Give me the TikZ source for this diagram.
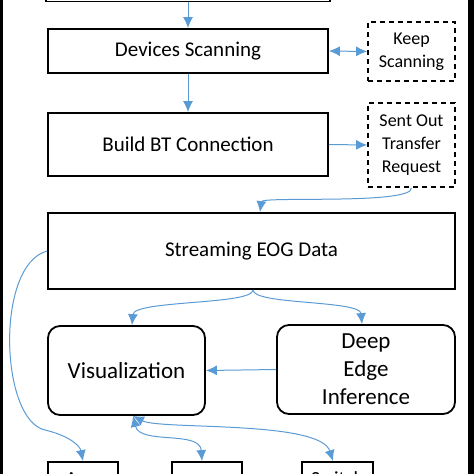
\documentclass[tikz,border=0pt]{standalone}
\usepackage{fontspec}
\setmainfont{Carlito}
\usetikzlibrary{arrows.meta}
\definecolor{ablue}{RGB}{91,155,213}
\begin{document}
\begin{tikzpicture}[x=1pt,y=-1pt,
  sbox/.style={draw=black,line width=1.8pt,inner sep=0pt,align=center,font=\fontsize{21}{25}\selectfont},
  dbox/.style={draw=black,line width=1.8pt,dash pattern=on 5pt off 4pt,inner sep=0pt,align=center,font=\fontsize{18}{23}\selectfont},
  rbox/.style={draw=black,line width=1.8pt,rounded corners=12pt,inner sep=0pt,align=center,font=\fontsize{23}{28}\selectfont},
  conn/.style={draw=ablue,line width=1pt,-{Latex[length=11pt,width=10pt]}},
  dconn/.style={draw=ablue,line width=1pt,{Latex[length=11pt,width=10pt]}-{Latex[length=11pt,width=10pt]}}
]
\useasboundingbox (0,0) rectangle (474,474);
\clip (0,0) rectangle (474,474);
% frame
\fill[black] (0,0) rectangle (2.5,474);
\fill[black] (468,0) rectangle (474,474);
% boxes
\node[sbox,minimum width=284pt,minimum height=43pt] (top) at (188,-20) {};
\node[sbox,minimum width=280pt,minimum height=44pt] (dev) at (188,51) {Devices Scanning};
\node[dbox,minimum width=87pt,minimum height=59pt] (keep) at (411.5,51.5) {Keep\\Scanning};
\node[sbox,minimum width=280pt,minimum height=63pt] (bt) at (188,144.5) {Build BT Connection};
\node[dbox,minimum width=87pt,minimum height=84pt] (sent) at (411.5,145) {Sent Out\\Transfer\\Request};
\node[sbox,minimum width=407pt,minimum height=76pt] (eog) at (251.5,251) {Streaming EOG Data};
\node[rbox,minimum width=157pt,minimum height=89pt] (vis) at (126.5,370.5) {Visualization};
\node[rbox,minimum width=178pt,minimum height=89pt] (deep) at (366,369.5) {Deep\\Edge\\Inference};
\node[sbox,minimum width=70pt,minimum height=40pt] (b1) at (83,482) {};
\node[sbox,minimum width=70pt,minimum height=40pt] (b2) at (207,482) {};
\node[sbox,minimum width=71pt,minimum height=40pt] (b3) at (337.5,482) {};
\node[anchor=base,inner sep=0pt,font=\fontsize{20}{24}\selectfont] (t1) at (83,485) {Arm};
\node[anchor=base,inner sep=0pt,font=\fontsize{20}{24}\selectfont] (t3) at (337.5,485) {Switch};
% connectors
\draw[conn] (top.south) -- (dev.north);
\draw[dconn] (dev.east) -- (keep.west);
\draw[conn] (dev.south) -- (bt.north);
\draw[conn] (bt.east) -- (sent.west);
\draw[conn] (sent.south) .. controls (412,205) and (262,196) .. ([xshift=8.5pt]eog.north);
\draw[conn] ([xshift=1.5pt]eog.south) .. controls (253,305) and (134,300) .. ([xshift=5.5pt]vis.north);
\draw[conn] ([xshift=1.5pt]eog.south) .. controls (253,305) and (360,300) .. ([xshift=-4pt]deep.north);
\draw[conn] (deep.west) -- (vis.east);
\draw[conn] (eog.west) .. controls (-5,265) and (0,420) .. (45,430) .. controls (70,436) and (80,446) .. (b1.north);
\draw[dconn] ([xshift=6.5pt]vis.south) .. controls (140,445) and (200,430) .. ([xshift=-5pt]b2.north);
\draw[dconn] ([xshift=6.5pt]vis.south) .. controls (160,430) and (320,420) .. ([xshift=-4.5pt]b3.north);
\end{tikzpicture}
\end{document}
